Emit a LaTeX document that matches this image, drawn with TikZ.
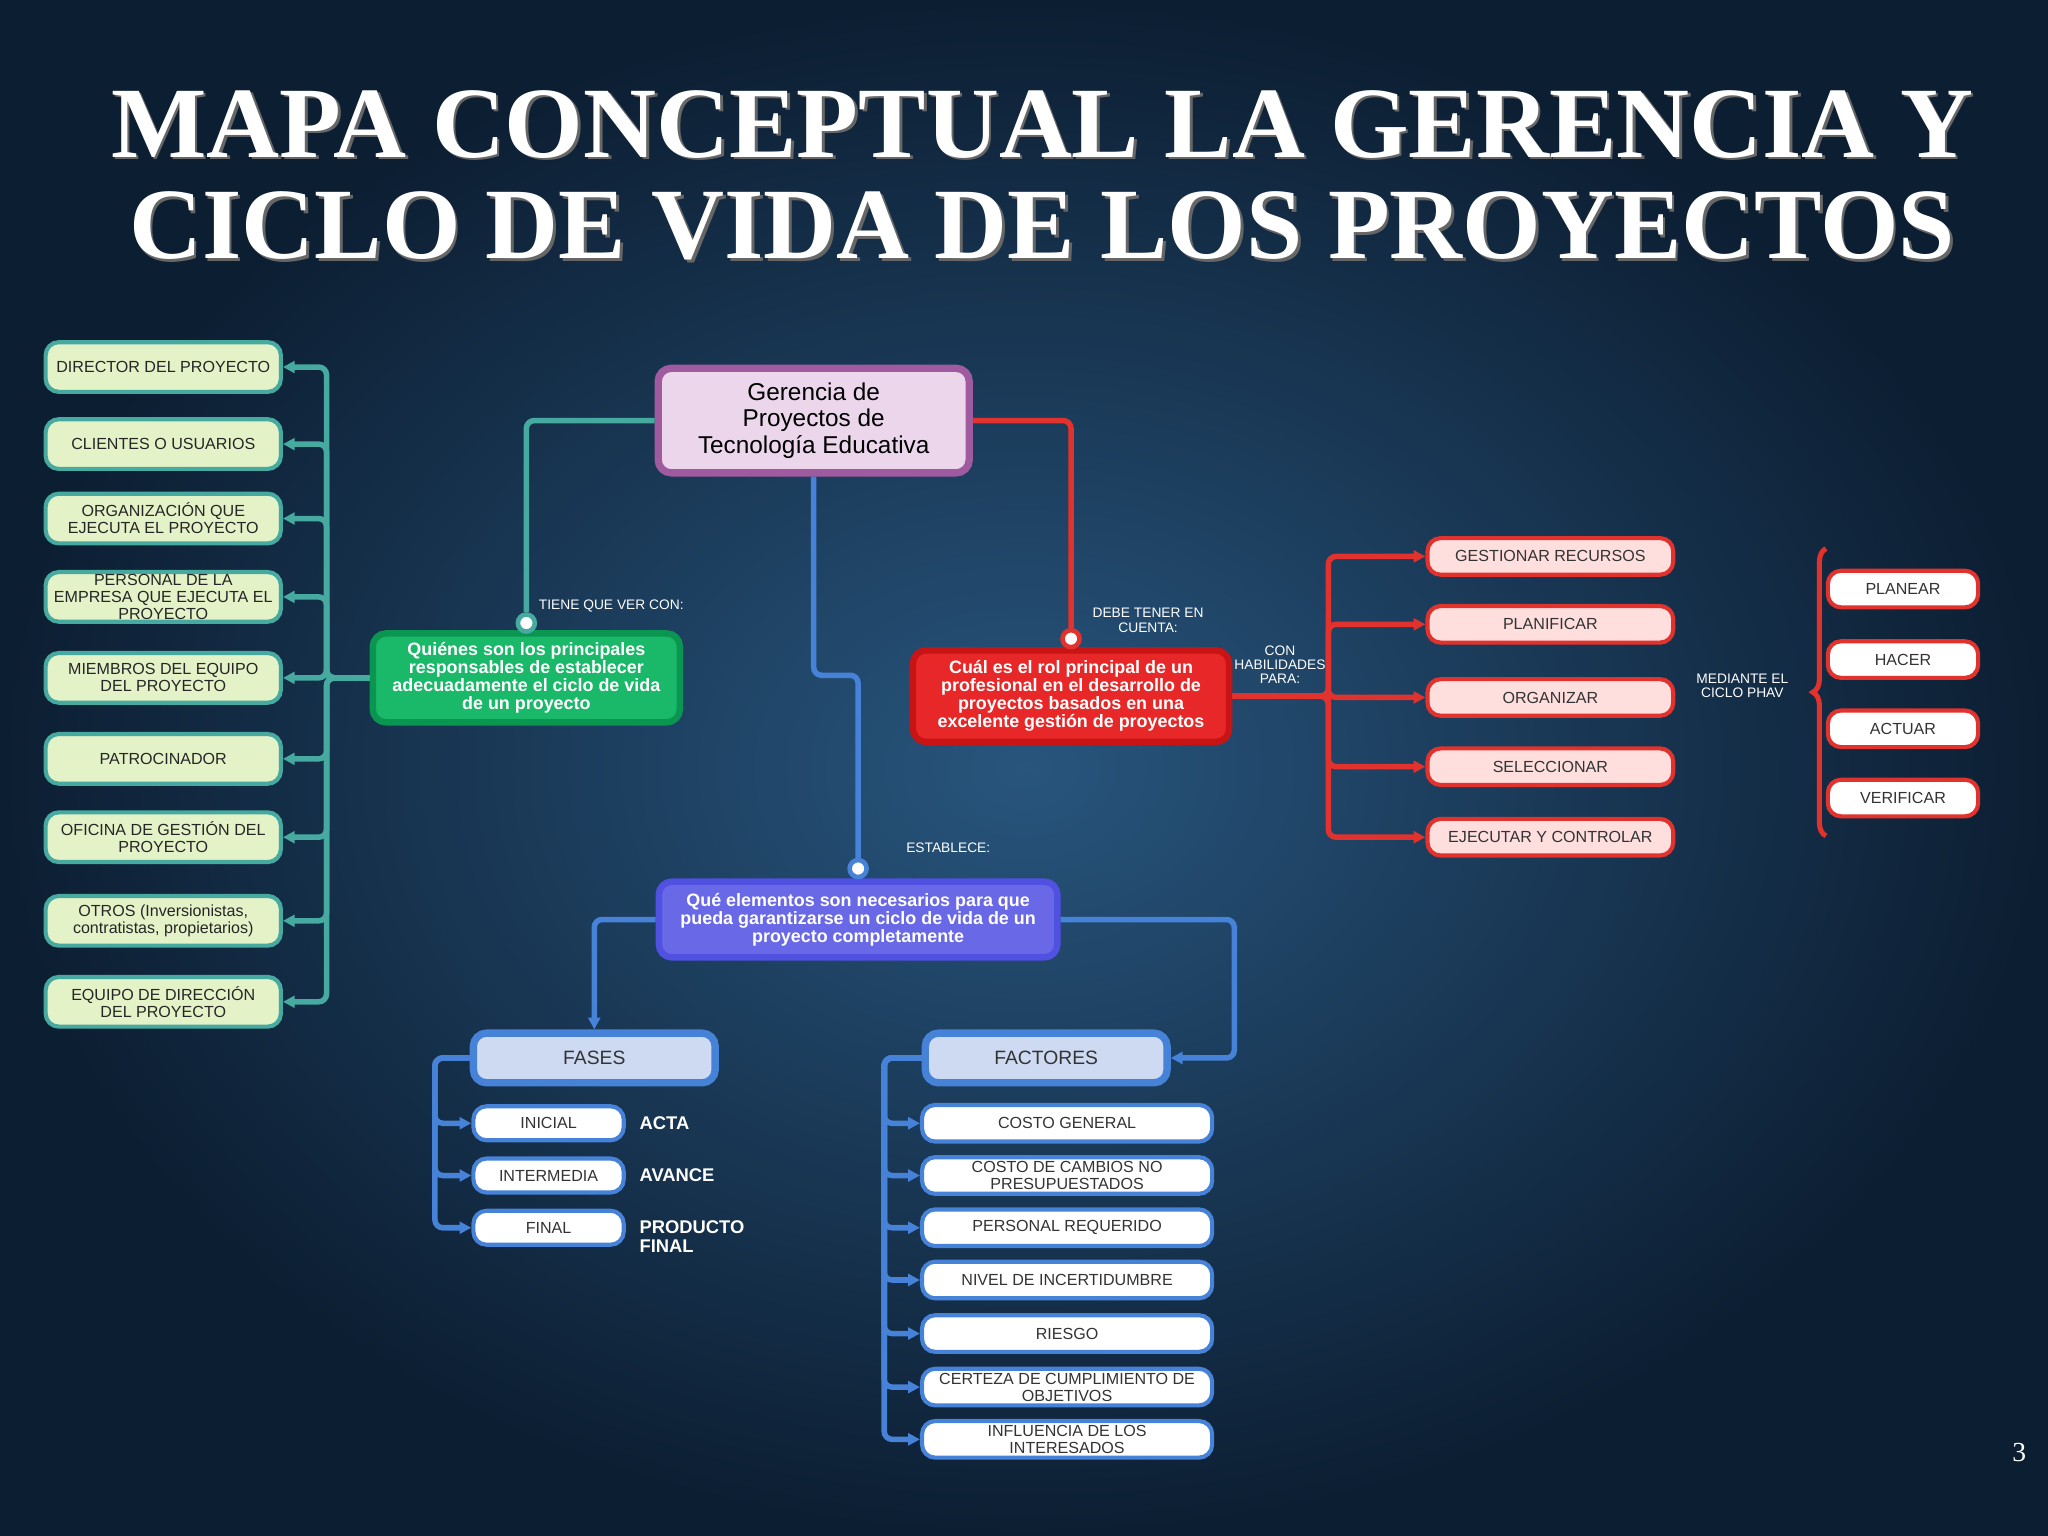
\documentclass[tikz,border=0pt]{standalone}
\usepackage{fontspec}
\setmainfont{Liberation Sans}
\newfontfamily\titlefont{Liberation Serif}
\usetikzlibrary{arrows.meta,decorations.pathreplacing}
\definecolor{teal1}{RGB}{70,170,160}
\definecolor{redl}{RGB}{225,50,45}
\definecolor{bluel}{RGB}{70,130,215}
\tikzset{
 x=0.01cm,y=-0.01cm,
 box/.style={draw,line width=0.9pt,rounded corners=0.1cm,align=center,inner sep=0pt,font=\fontsize{3.5}{3.7}\selectfont},
 gl/.style={box,fill={rgb,255:red,228;green,242;blue,200},draw=teal1,minimum width=1.8cm,minimum height=0.38cm,text=black!85},
 rl/.style={box,fill={rgb,255:red,255;green,222;blue,222},draw=redl,minimum width=1.88cm,minimum height=0.28cm,text=black!80},
 wl/.style={box,fill=white,draw=redl,minimum width=1.15cm,minimum height=0.28cm,text=black!80},
 pl/.style={box,fill=white,draw=bluel,minimum width=1.15cm,minimum height=0.26cm,text=black!80},
 fl/.style={box,fill=white,draw=bluel,minimum width=2.22cm,minimum height=0.28cm,text=black!80},
 lbl/.style={text=white,font=\fontsize{3}{3.1}\selectfont,align=center,inner sep=0pt},
 dot/.style={circle,fill=white,draw,line width=1pt,inner sep=0pt,minimum size=0.13cm},
 tl/.style={teal1,line width=1.2pt,rounded corners=0.06cm},
 rd/.style={redl,line width=1.2pt,rounded corners=0.06cm},
 bl/.style={bluel,line width=1.2pt,rounded corners=0.06cm},
 ar/.style={-{Triangle[length=0.09cm,width=0.09cm]}},
 ttl/.style={font=\titlefont\bfseries\fontsize{22}{24}\selectfont},
}
\begin{document}
\begin{tikzpicture}
\useasboundingbox (0,0) rectangle (1568,1176);
\shade[inner color={rgb,255:red,40;green,85;blue,125},outer color={rgb,255:red,12;green,30;blue,50}] (0,0) rectangle (1568,1176);
\node[text=black!60,ttl] at (800,97) {MAPA CONCEPTUAL LA GERENCIA Y};
\node[text=white,ttl] (t1) at (798,95) {MAPA CONCEPTUAL LA GERENCIA Y};
\node[text=black!60,ttl] at (800,175) {CICLO DE VIDA DE LOS PROYECTOS};
\node[text=white,ttl] (t2) at (798,173) {CICLO DE VIDA DE LOS PROYECTOS};
\node[text=white,font=\titlefont\fontsize{6}{7}\selectfont] (pg) at (1546,1112) {3};

\node[box,fill={rgb,255:red,236;green,214;blue,236},draw={rgb,255:red,160;green,90;blue,160},line width=1.6pt,minimum width=2.38cm,minimum height=0.8cm,font=\fontsize{5.3}{5.8}\selectfont] (c) at (623,322) {Gerencia de\\Proyectos de\\Tecnología Educativa};
\node[box,fill={rgb,255:red,25;green,185;blue,105},draw={rgb,255:red,10;green,150;blue,80},line width=1.4pt,text=white,minimum width=2.35cm,minimum height=0.68cm,font=\bfseries\fontsize{3.9}{3.9}\selectfont] (g) at (403,519) {Quiénes son los principales\\responsables de establecer\\adecuadamente el ciclo de vida\\de un proyecto};
\node[box,fill={rgb,255:red,232;green,40;blue,40},draw={rgb,255:red,200;green,20;blue,20},line width=1.4pt,text=white,minimum width=2.42cm,minimum height=0.7cm,font=\bfseries\fontsize{3.9}{3.9}\selectfont] (r) at (820,533) {Cuál es el rol principal de un\\profesional en el desarrollo de\\proyectos basados en una\\excelente gestión de proyectos};
\node[box,fill={rgb,255:red,105;green,105;blue,232},draw={rgb,255:red,80;green,80;blue,225},line width=1.4pt,text=white,minimum width=3.05cm,minimum height=0.58cm,font=\bfseries\fontsize{3.9}{3.9}\selectfont] (b) at (657,704) {Qué elementos son necesarios para que\\pueda garantizarse un ciclo de vida de un\\proyecto completamente};

\node[dot,draw=teal1] (dg) at (403,477) {};
\node[dot,draw=redl] (dr) at (820,489) {};
\node[dot,draw=bluel] (db) at (657,665) {};
\draw[tl] (c.west) -| (dg);
\draw[rd] (c.east) -| (dr);
\draw[bl] (c.south) -- (623,517) -- (657,517) -- (db);
\node[lbl] (l1) at (468,464) {TIENE QUE VER CON:};
\node[lbl] (l2) at (879,475) {DEBE TENER EN\\CUENTA:};
\node[lbl] (l3) at (980,509) {CON\\HABILIDADES\\PARA:};
\node[lbl] (l4) at (726,649) {ESTABLECE:};

\foreach \n/\y/\t in {1/281/DIRECTOR DEL PROYECTO,2/340/CLIENTES O USUARIOS,3/397/{ORGANIZACIÓN QUE\\EJECUTA EL PROYECTO},4/457/{PERSONAL DE LA\\EMPRESA QUE EJECUTA EL\\PROYECTO},5/519/{MIEMBROS DEL EQUIPO\\DEL PROYECTO},6/581/PATROCINADOR,7/641/{OFICINA DE GESTIÓN DEL\\PROYECTO},8/705/{OTROS (Inversionistas,\\contratistas, propietarios)},9/767/{EQUIPO DE DIRECCIÓN\\DEL PROYECTO}}{
 \node[gl] (L\n) at (125,\y) {\t};
 \draw[tl,ar] (g.west) -- (250,519) -- (250,\y) -- (L\n.east);
}
\foreach \n/\y/\t in {1/426/GESTIONAR RECURSOS,2/478/PLANIFICAR,3/534/ORGANIZAR,4/587/SELECCIONAR,5/641/EJECUTAR Y CONTROLAR}{
 \node[rl] (R\n) at (1187,\y) {\t};
 \draw[rd,ar] (r.east) -- (1017,533) -- (1017,\y) -- (R\n.west);
}
\foreach \n/\y/\t in {1/451/PLANEAR,2/505/HACER,3/558/ACTUAR,4/611/VERIFICAR}{
 \node[wl] (P\n) at (1457,\y) {\t};
}
\coordinate (bt) at (1398,420);
\coordinate (bb) at (1398,640);
\draw[redl,line width=1.1pt,decorate,decoration={brace,amplitude=0.1cm}] (bb) -- (bt);
\node[lbl] (l5) at (1334,525) {MEDIANTE EL\\CICLO PHAV};

\node[box,fill={rgb,255:red,205;green,218;blue,242},draw=bluel,line width=1.6pt,minimum width=1.85cm,minimum height=0.38cm,font=\fontsize{4.2}{5}\selectfont,text=black!80] (F) at (455,810) {FASES};
\node[box,fill={rgb,255:red,205;green,218;blue,242},draw=bluel,line width=1.6pt,minimum width=1.85cm,minimum height=0.38cm,font=\fontsize{4.2}{5}\selectfont,text=black!80] (K) at (801,810) {FACTORES};
\draw[bl,ar] (b.west) -| (F.north);
\draw[bl,ar] (b.east) -- (945,704) -- (945,810) -- (K.east);

\foreach \n/\y/\t/\s in {1/860/INICIAL/ACTA,2/900/INTERMEDIA/AVANCE,3/940/FINAL/{PRODUCTO\\FINAL}}{
 \node[pl] (A\n) at (420,\y) {\t};
 \draw[bl,ar] (F.west) -- (333,810) -- (333,\y) -- (A\n.west);
 \node[text=white,font=\bfseries\fontsize{4}{4}\selectfont,align=left,anchor=north west,inner sep=0pt] (S\n) at (489,\y-6) {\s};
}
\foreach \n/\y/\t in {1/860/COSTO GENERAL,2/900/{COSTO DE CAMBIOS NO\\PRESUPUESTADOS},3/940/PERSONAL REQUERIDO,4/980/NIVEL DE INCERTIDUMBRE,5/1021/RIESGO,6/1062/{CERTEZA DE CUMPLIMIENTO DE\\OBJETIVOS},7/1102/{INFLUENCIA DE LOS\\INTERESADOS}}{
 \node[fl] (B\n) at (817,\y) {\t};
 \draw[bl,ar] (K.west) -- (677,810) -- (677,\y) -- (B\n.west);
}
\end{tikzpicture}
\end{document}
